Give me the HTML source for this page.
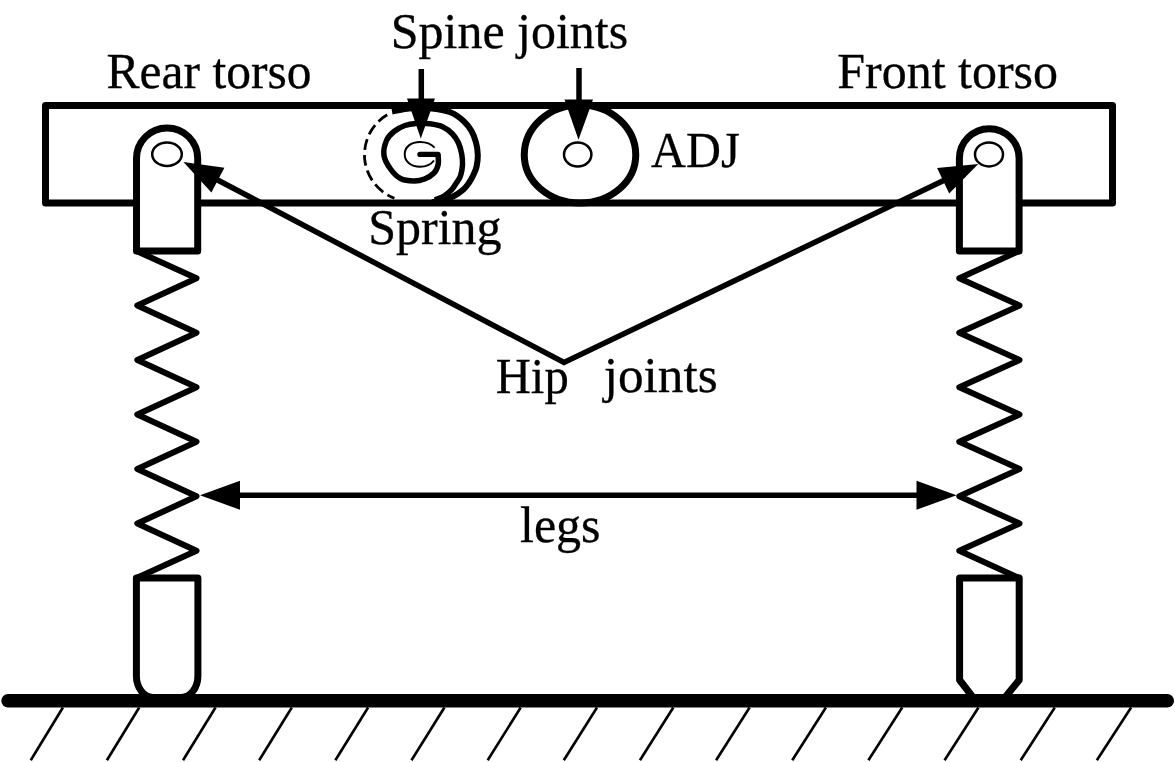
<!DOCTYPE html>
<html>
<head>
<meta charset="utf-8">
<style>
html,body{margin:0;padding:0;background:#fff;}
body{width:1175px;height:762px;overflow:hidden;}
svg{display:block;}
text{font-family:"Liberation Serif",serif;font-size:50px;fill:#000;stroke:#000;stroke-width:0.3px;}
</style>
</head>
<body>
<svg width="1175" height="762" viewBox="0 0 1175 762">
<rect x="0" y="0" width="1175" height="762" fill="#fff"/>
<!-- torso -->
<rect x="45.5" y="105.5" width="1067" height="97.5" fill="none" stroke="#000" stroke-width="7" stroke-linejoin="round"/>

<!-- spiral spring -->
<g fill="none" stroke="#000">
  <path d="M387.2,114.8 A46.5,46.5 0 0 0 394.4,198.2" stroke-width="2.8" stroke-dasharray="11,5"/>
  <path d="M392.0,111.5 C394.2,111.1 400.7,109.6 405.0,109.0 C409.3,108.4 413.5,108.1 418.0,108.0 C422.5,107.9 426.5,107.8 432.0,108.5 C437.5,109.2 445.8,110.4 451.0,112.5 C456.2,114.6 460.1,117.9 463.5,121.0 C466.9,124.1 469.4,127.4 471.5,131.0 C473.6,134.6 474.9,138.5 476.0,142.5 C477.1,146.5 477.7,150.9 477.8,155.0 C477.9,159.1 477.3,163.5 476.5,167.0 C475.7,170.5 474.2,173.2 473.0,175.8 C471.8,178.4 470.6,180.4 469.0,182.7 C467.4,185.0 465.9,187.4 463.4,189.6 C460.9,191.8 457.6,194.2 454.0,196.0 C450.4,197.8 445.7,199.5 442.0,200.5 C438.3,201.5 433.7,201.8 432.0,202.0" stroke-width="6"/>
  <path d="M434.6,147.6 C431,143.5 426,141.9 420,141.9 C411,141.9 404.7,147 404.7,154.3 C404.7,161.6 411,166.7 420,166.7 C426,166.7 431,164.5 434,160.5" stroke-width="2"/>
  <path d="M420,154.4 L438,154.4" stroke-width="5.4" stroke-linecap="round"/>
  <path d="M438.0,154.5 C438.0,156.1 438.9,161.2 438.2,164.3 C437.5,167.4 436.3,170.6 434.0,173.0 C431.7,175.4 427.8,177.7 424.5,179.0 C421.2,180.3 418.0,181.1 414.0,181.0 C410.0,180.9 404.4,180.5 400.5,178.5 C396.6,176.5 393.2,172.8 390.5,169.0 C387.8,165.2 384.7,160.2 384.0,155.5 C383.3,150.8 384.8,144.5 386.5,140.5 C388.2,136.5 390.9,134.0 394.0,131.5 C397.1,129.0 401.3,126.8 405.0,125.5 C408.7,124.2 411.8,123.8 416.0,123.5 C420.2,123.2 425.5,123.2 430.0,123.8 C434.5,124.4 439.2,125.3 443.0,127.0 C446.8,128.7 449.9,131.3 452.5,134.0 C455.1,136.7 457.0,139.7 458.5,143.0 C460.0,146.3 461.0,150.3 461.7,154.0 C462.4,157.7 462.7,161.4 462.5,165.0 C462.3,168.6 461.5,172.9 460.5,175.8 C459.5,178.8 458.0,180.4 456.5,182.7 C455.0,185.0 453.8,187.4 451.7,189.6 C449.6,191.8 446.8,194.3 444.0,196.0 C441.2,197.7 436.5,199.3 435.0,200.0" stroke-width="5.5"/>
</g>

<!-- ADJ -->
<path d="M524.25,155 A55.75,50 0 0 1 635.75,155 A55.75,48 0 0 1 524.25,155 Z" fill="none" stroke="#000" stroke-width="7"/>
<ellipse cx="577.7" cy="154.5" rx="13.7" ry="12" fill="none" stroke="#000" stroke-width="2.5"/>

<!-- spine arrows -->
<line x1="421.3" y1="69" x2="421.3" y2="100" stroke="#000" stroke-width="5.5"/>
<polygon points="407,98.6 435,98.6 420.8,138.5" fill="#000"/>
<line x1="579" y1="68" x2="579" y2="100" stroke="#000" stroke-width="5.5"/>
<polygon points="564.5,99.4 593,99.4 578.5,139.7" fill="#000"/>

<!-- left leg -->
<g fill="#fff" stroke="#000" stroke-width="7" stroke-linejoin="round">
  <path d="M136.5,251 L136.5,158.5 A30.6,30.6 0 0 1 197.7,158.5 L197.7,251 Z"/>
  <path d="M136.4,578 L197.9,578 L197.9,676 A16.6,21.5 0 0 1 181.3,697.4 L153,697.4 A16.6,21.5 0 0 1 136.4,676 Z"/>
  <path d="M959.4,251 L959.4,158.5 A29.85,29.85 0 0 1 1019.1,158.5 L1019.1,251 Z"/>
  <path d="M959.6,578 L1019.2,578 L1019.2,680 L1004.5,698 L973.5,698 L959.6,680 Z"/>
</g>
<ellipse cx="167" cy="154.3" rx="14.8" ry="11.7" fill="none" stroke="#000" stroke-width="2.5"/>
<ellipse cx="989" cy="154.4" rx="14" ry="12" fill="none" stroke="#000" stroke-width="2.5"/>

<!-- springs -->
<polyline fill="none" stroke="#000" stroke-width="6" stroke-linejoin="round" points="136.5,251.00 196.5,278.25 137.3,305.50 196.5,332.75 137.3,360.00 196.5,387.25 137.3,414.50 196.5,441.75 137.3,469.00 196.5,496.25 137.3,523.50 196.5,550.75 136.5,578.00"/>
<polyline fill="none" stroke="#000" stroke-width="6" stroke-linejoin="round" points="1019.2,251.00 959.3,278.25 1019.5,305.50 959.3,332.75 1019.5,360.00 959.3,387.25 1019.5,414.50 959.3,441.75 1019.5,469.00 959.3,496.25 1019.5,523.50 959.3,550.75 1019.2,578.00"/>

<!-- legs arrow -->
<line x1="238" y1="495.3" x2="918" y2="495.3" stroke="#000" stroke-width="5.5"/>
<polygon points="200,495.3 240,480.8 240,509.8" fill="#000"/>
<polygon points="956.5,495.3 916.5,480.8 916.5,509.8" fill="#000"/>

<!-- hip arrows -->
<polyline points="215.2,178.7 564,362.5 945.8,179.5" fill="none" stroke="#000" stroke-width="5.5" stroke-linejoin="miter"/>
<polygon points="183.4,161.9 224.4,167.7 211.4,192.5" fill="#000"/>
<polygon points="978.3,163.9 949.2,193.4 937.1,168.1" fill="#000"/>

<!-- ground -->
<line x1="8" y1="700.7" x2="1167.3" y2="700.7" stroke="#000" stroke-width="13.5" stroke-linecap="round"/>
<g stroke="#000" stroke-width="2.6">
  <line x1="62.90" y1="707.5" x2="30.75" y2="760.3"/>
  <line x1="139.20" y1="707.5" x2="106.90" y2="760.3"/>
  <line x1="215.50" y1="707.5" x2="183.05" y2="760.3"/>
  <line x1="291.80" y1="707.5" x2="259.20" y2="760.3"/>
  <line x1="368.10" y1="707.5" x2="335.35" y2="760.3"/>
  <line x1="444.40" y1="707.5" x2="411.50" y2="760.3"/>
  <line x1="520.70" y1="707.5" x2="487.65" y2="760.3"/>
  <line x1="597.00" y1="707.5" x2="563.80" y2="760.3"/>
  <line x1="673.30" y1="707.5" x2="639.95" y2="760.3"/>
  <line x1="749.60" y1="707.5" x2="716.10" y2="760.3"/>
  <line x1="825.90" y1="707.5" x2="792.25" y2="760.3"/>
  <line x1="902.20" y1="707.5" x2="868.40" y2="760.3"/>
  <line x1="978.50" y1="707.5" x2="944.55" y2="760.3"/>
  <line x1="1054.80" y1="707.5" x2="1020.70" y2="760.3"/>
  <line x1="1131.10" y1="707.5" x2="1096.85" y2="760.3"/>
</g>

<!-- text -->
<text x="390.7" y="47.6">Spine joints</text>
<text transform="translate(106.5,88.4) scale(0.991,1)">Rear torso</text>
<text x="837.2" y="88.4">Front torso</text>
<text transform="translate(651.1,166.8) scale(0.967,1)">ADJ</text>
<text x="368.2" y="243.9">Spring</text>
<text transform="translate(495.7,392.5) scale(0.974,1)">Hip</text>
<text transform="translate(603.7,392.3) scale(1.026,1)">joints</text>
<text x="520" y="542">legs</text>
</svg>
</body>
</html>
